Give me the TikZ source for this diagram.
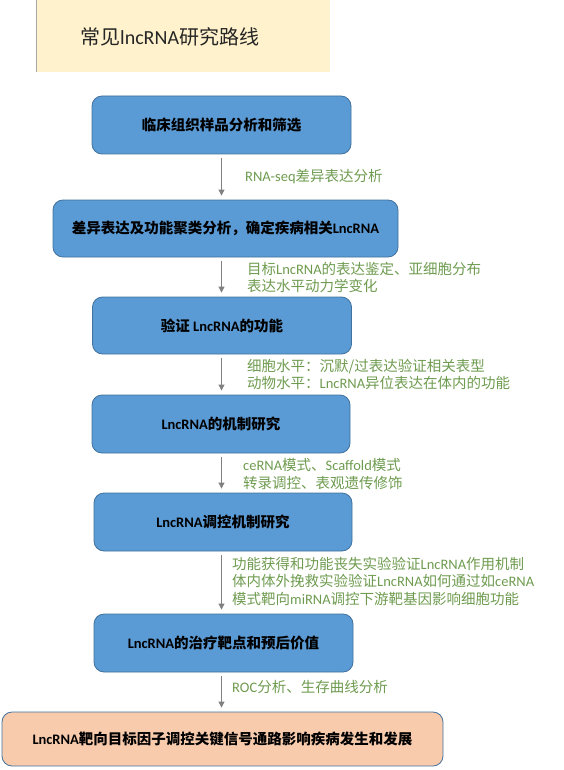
\documentclass[tikz,border=0pt]{standalone}
\usepackage{fontspec}
\setmainfont{Carlito}
\newfontfamily\cjk{Noto Sans CJK SC}
\newfontfamily\enfont{Carlito}
\newcommand{\EN}[1]{{\enfont #1}}
\usepackage{xcolor}
\usetikzlibrary{arrows.meta, positioning}

\definecolor{boxblue}{HTML}{5B9BD5}
\definecolor{boxline}{HTML}{41719C}
\definecolor{boxorange}{HTML}{F8CBAD}
\definecolor{titlebg}{HTML}{FFF2CC}
\definecolor{titletext}{HTML}{262626}
\definecolor{notegreen}{HTML}{6E9B4F}
\definecolor{arrowgray}{HTML}{808080}

\tikzset{
  stepbox/.style={draw=boxline, fill=boxblue, line width=0.8pt,
    rounded corners=10pt, minimum height=58pt, inner sep=0pt,
    font=\cjk\bfseries\fontsize{14.5}{17}\selectfont},
  note/.style={anchor=west, inner sep=0pt, align=left, text=notegreen,
    font=\cjk\fontsize{14.5}{17.5}\selectfont},
  flow/.style={draw=arrowgray, line width=0.8pt,
    -{Triangle[width=6pt,length=6pt]}, shorten <=4pt, shorten >=4pt},
}

\begin{document}
\begin{tikzpicture}[x=1pt, y=-1pt]
    \useasboundingbox (0,0) rectangle (563,770);

    % 标题
    \fill[titlebg] (36,0) rectangle (330,72);
    \draw[gray!70, line width=0.8pt] (36,0) -- (36,72);
    \node[anchor=west, inner sep=0pt, text=titletext,
          font=\cjk\fontsize{20}{24}\selectfont] (title) at (80,37)
          {常见\EN{lncRNA}研究路线};

    % 各步骤
    \node[stepbox, minimum width=259pt] (b1) at (221.5,125) {临床组织样品分析和筛选};
    \node[stepbox, minimum width=345pt, minimum height=57pt] (b2) at (225.5,228.5)
          {差异表达及功能聚类分析，确定疾病相关\EN{LncRNA}};
    \node[stepbox, minimum width=259pt, minimum height=57pt] (b3) at (222,325.5)
          {验证 \EN{LncRNA}的功能};
    \node[stepbox, minimum width=258pt] (b4) at (221,424) {\EN{LncRNA}的机制研究};
    \node[stepbox, minimum width=258pt] (b5) at (223,522) {\EN{LncRNA}调控机制研究};
    \node[stepbox, minimum width=259pt] (b6) at (223.5,643) {\EN{LncRNA}的治疗靶点和预后价值};
    \node[stepbox, fill=boxorange, minimum width=441pt, minimum height=54pt] (b7) at (222.5,739)
          {\EN{LncRNA}靶向目标因子调控关键信号通路影响疾病发生和发展};

    % 箭头
    \foreach \a/\b in {b1/b2, b2/b3, b3/b4, b4/b5, b5/b6, b6/b7} {
        \draw[flow] (\a.south -| b1) -- (\b.north -| b1);
    }

    % 说明文字
    \node[note] (n1) at (245,177) {\EN{RNA-seq}差异表达分析};
    \node[note] (n2) at (247,277.5) {目标\EN{LncRNA}的表达鉴定、亚细胞分布\\表达水平动力学变化};
    \node[note] (n3) at (247,374.5) {细胞水平：沉默/过表达验证相关表型\\动物水平：\EN{LncRNA}异位表达在体内的功能};
    \node[note] (n4) at (243,474) {\EN{ceRNA}模式、\EN{Scaffold}模式\\转录调控、表观遗传修饰};
    \node[note] (n5) at (232,581) {功能获得和功能丧失实验验证\EN{LncRNA}作用机制\\体内体外挽救实验验证\EN{LncRNA}如何通过如\EN{ceRNA}\\模式靶向\EN{miRNA}调控下游靶基因影响细胞功能};
    \node[note] (n6) at (232,687) {\EN{ROC}分析、生存曲线分析};

\end{tikzpicture}
\end{document}
